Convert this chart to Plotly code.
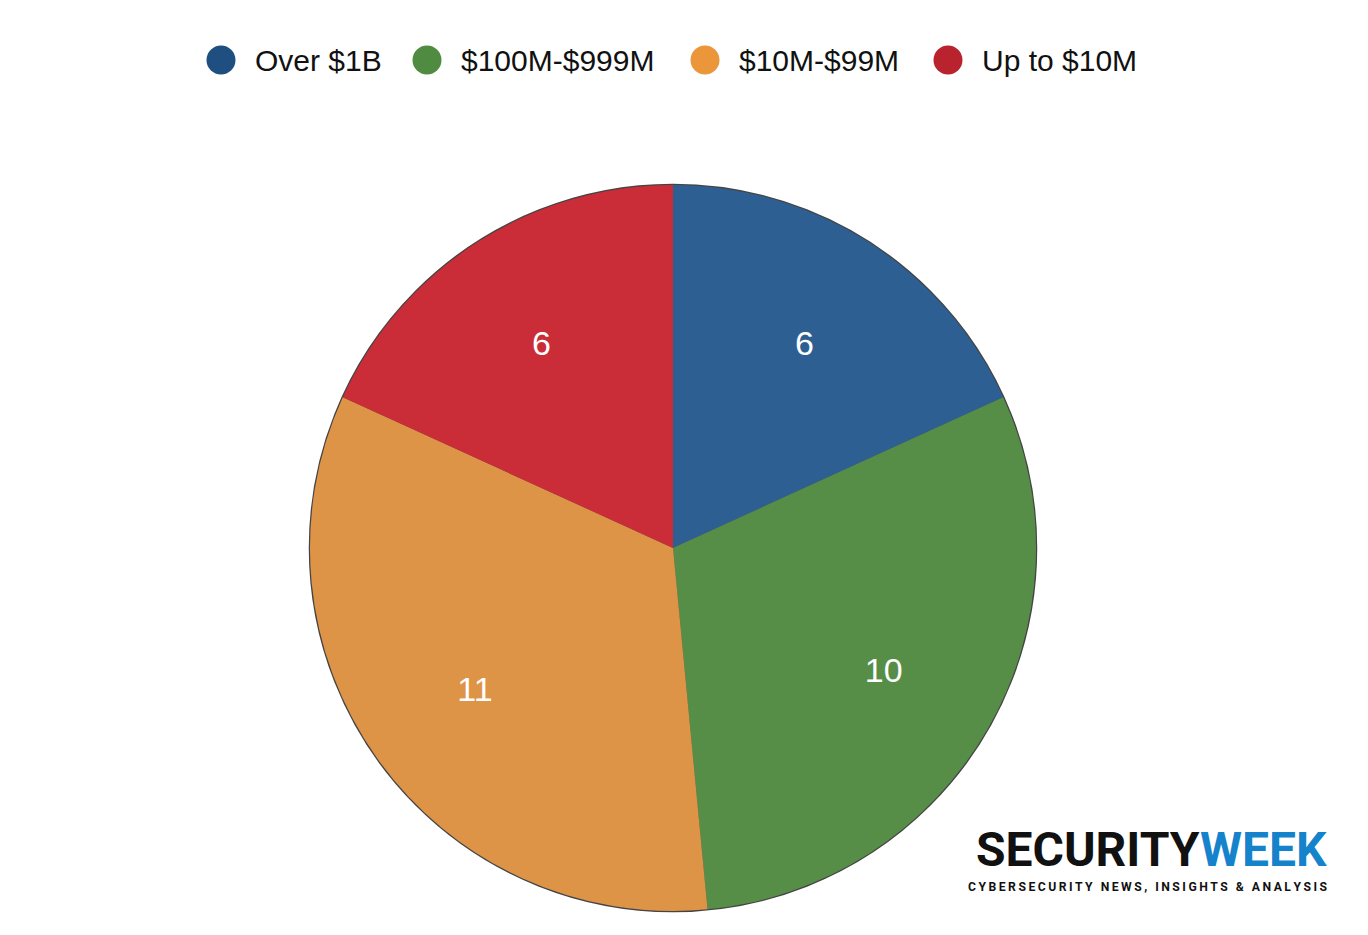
import plotly.graph_objects as go

# page has an 8px body margin, so the figure is drawn 8px in from the window corner
W, H = 1352, 919
OFF = 8

categories = ["Over $1B", "$100M-$999M", "$10M-$99M", "Up to $10M"]
values = [6, 10, 11, 6]
slice_colors = ["#2d5f93", "#568e48", "#de9447", "#cb2d38"]
legend_colors = ["#1f4e80", "#4f8b40", "#eb963a", "#b9232e"]

# pie geometry (window pixels)
cx, cy, R = 673 - OFF, 548 - OFF, 363
dom_x = [(cx - R) / W, (cx + R) / W]
dom_y = [(H - cy - R) / H, (H - cy + R) / H]

fig = go.Figure()

# outline pie behind (gives dark rim)
fig.add_trace(go.Pie(
    values=[1], labels=["rim"], domain=dict(x=dom_x, y=dom_y),
    marker=dict(colors=["#555555"], line=dict(color="#444444", width=2.5)),
    textinfo="none", hoverinfo="skip", showlegend=False, sort=False,
))

# main pie (no text)
fig.add_trace(go.Pie(
    values=values, labels=categories, domain=dict(x=dom_x, y=dom_y),
    sort=False, direction="clockwise", rotation=0,
    marker=dict(colors=slice_colors, line=dict(width=0)),
    textinfo="none", showlegend=False,
))

# transparent ring carrying the value labels further out along each slice
fig.add_trace(go.Pie(
    values=values, labels=categories, domain=dict(x=dom_x, y=dom_y),
    sort=False, direction="clockwise", rotation=0, hole=0.34,
    marker=dict(colors=["rgba(0,0,0,0)"] * len(values), line=dict(width=0)),
    textinfo="value", textposition="inside", insidetextorientation="horizontal",
    textfont=dict(family="Liberation Sans, Arial, sans-serif", size=34, color="white"),
    hoverinfo="skip", showlegend=False,
))

# manual legend with round markers
legend_x = [221 - OFF, 427 - OFF, 705 - OFF, 948 - OFF]
leg_y = 60 - OFF
shapes = []
annotations = []
for i, (lab, col) in enumerate(zip(categories, legend_colors)):
    xc = legend_x[i] / W
    yc = 1 - leg_y / H
    shapes.append(dict(type="circle", xref="paper", yref="paper",
                       xsizemode="pixel", ysizemode="pixel",
                       xanchor=xc, yanchor=yc, x0=-14.5, x1=14.5, y0=-14.5, y1=14.5,
                       fillcolor=col, line=dict(width=0)))
    annotations.append(dict(text=lab, xref="paper", yref="paper",
                            x=(legend_x[i] + 32) / W, y=yc, xanchor="left", yanchor="middle",
                            showarrow=False,
                            font=dict(family="Liberation Sans, Arial, sans-serif", size=30, color="#111111")))

# logo
annotations.append(dict(
    text="<b>SECURITY</b><span style='color:#1583cc'><b>WEEK</b></span>",
    xref="paper", yref="paper", x=(1329 - OFF) / W, y=1 - (849 - OFF) / H,
    xanchor="right", yanchor="middle", showarrow=False,
    font=dict(family="Roboto, Liberation Sans, Arial", size=48, color="#111111")))
sub = "CYBERSECURITY NEWS, INSIGHTS & ANALYSIS"
annotations.append(dict(
    text="<b>" + "\u2009".join(sub) + "</b>",
    xref="paper", yref="paper", x=(1329 - OFF) / W, y=1 - (887 - OFF) / H,
    xanchor="right", yanchor="middle", showarrow=False,
    font=dict(family="Roboto, Liberation Sans, Arial", size=12.2, color="#111111")))

fig.update_layout(
    width=W, height=H,
    margin=dict(l=0, r=0, t=0, b=0),
    paper_bgcolor="white", plot_bgcolor="white",
    shapes=shapes, annotations=annotations,
    showlegend=False,
)

fig.write_html("out.html")
